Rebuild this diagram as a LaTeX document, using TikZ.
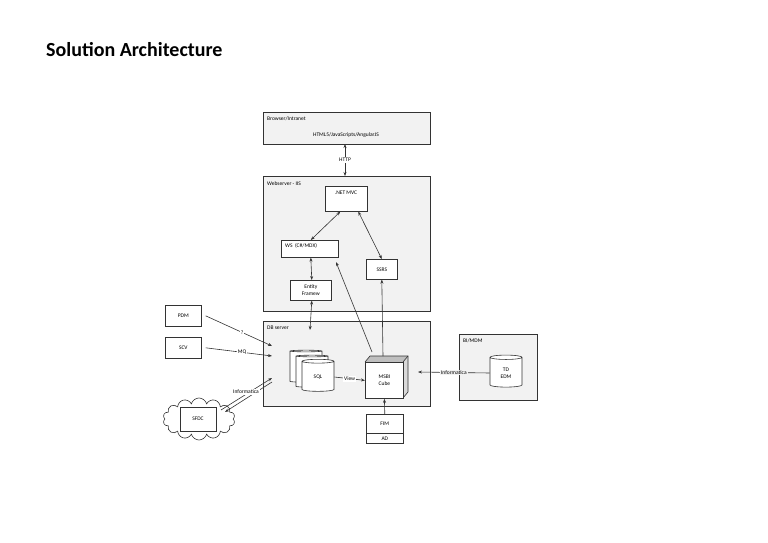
\documentclass[tikz,border=0pt]{standalone}
\usepackage{fontspec}
\setmainfont{Carlito}
\usetikzlibrary{shapes.geometric,shapes.symbols,arrows.meta}
\begin{document}
\begin{tikzpicture}[x=1pt,y=-1pt,
 cont/.style={draw=black!80,fill=black!5,line width=0.6pt},
 box/.style={draw=black!80,fill=white,line width=0.6pt},
 lbl/.style={font=\fontsize{5.5}{6.5}\selectfont,inner sep=1pt},
 ar/.style={-{Stealth[length=4pt,width=3pt]},line width=0.6pt,draw=black!80},
 dar/.style={{Stealth[length=4pt,width=3pt]}-{Stealth[length=4pt,width=3pt]},line width=0.6pt,draw=black!80},
 cyl/.style={cylinder,shape border rotate=90,aspect=0.25,draw=black!80,fill=white,line width=0.6pt,minimum width=32pt,minimum height=32pt,font=\fontsize{5.5}{6.5}\selectfont,align=center}]
\useasboundingbox (0,0) rectangle (768,543);
\node[anchor=west,font=\bfseries\fontsize{20}{24}\selectfont,inner sep=0pt] (title) at (46,50) {Solution Architecture};
% browser
\draw[cont] (263,112) rectangle (430,144);
\node[lbl,anchor=west] (brl) at (266,119) {Browser/Intranet};
\node[lbl] (html) at (346,135) {HTML5/JavaScripts/AngularJS};
\coordinate (bb) at (345,144);
% webserver
\draw[cont] (263,176) rectangle (430,311);
\node[lbl,anchor=west] (wsl) at (266,184) {Webserver - IIS};
\coordinate (wt) at (345,176);
\draw[dar] (bb) -- node[lbl,fill=white]{HTTP} (wt);
\node[box,minimum width=42pt,minimum height=25pt,anchor=north west] (mvc) at (325,186) {};
\node[lbl] (mvct) at (346,193) {.NET MVC};
\node[box,minimum width=57pt,minimum height=17pt,anchor=north west] (ws) at (281,240) {};
\node[lbl,anchor=west] (wst) at (284,246) {WS\ \ (C\#/MDX)};
\node[box,lbl,minimum width=31pt,minimum height=20pt,anchor=north west] (ssrs) at (366,259) {SSRS};
\node[box,lbl,minimum width=41pt,minimum height=20pt,anchor=north west,align=center] (ef) at (290,280) {Entity\\Framew};
\draw[dar] ([xshift=-6pt]mvc.south) -- ([xshift=1pt]ws.north);
\draw[dar] ([xshift=12pt]mvc.south) -- (ssrs.north);
\draw[dar] ([xshift=1pt]ws.south) -- ([xshift=1pt]ef.north);
% db server
\draw[cont] (263,321) rectangle (430,406);
\node[lbl,anchor=west] (dbl) at (266,328) {DB server};
\node[cyl] (c1) at (306,367) {};
\node[cyl] (c2) at (312,372) {};
\node[cyl] (sql) at (318,377) {SQL};
\coordinate (sqlt) at (310,330);
\draw[dar] ([xshift=1pt]ef.south) -- (sqlt);
% cube
\fill[black!25] (365,362) -- (370,356) -- (408,356) -- (403,362) -- cycle;
\fill[black!15] (403,362) -- (408,356) -- (408,392) -- (403,398) -- cycle;
\draw[black!80,line width=0.6pt] (365,362) -- (370,356) -- (408,356) -- (408,392) -- (403,398);
\draw[black!80,line width=0.6pt] (403,362) -- (408,356);
\node[draw=black!80,line width=0.8pt,fill=white,minimum width=38pt,minimum height=36pt,anchor=north west,lbl,align=center] (cube) at (365,362) {MSBI\\Cube};
\draw[ar] (sql.east) -- node[lbl,fill=white]{View} (cube.west);
\coordinate (ct) at (383,356);
\coordinate (cw) at (372,352);
\coordinate (wsb) at (336,262);
\draw[ar] (ct) -- (ssrs.south);
\draw[ar] (cw) -- (wsb);
% bi/mdm
\draw[cont] (459,334) rectangle (537,400);
\node[lbl,anchor=west] (bil) at (462,341) {BI/MDM};
\node[cyl,align=center] (td) at (506,373) {TD\\EDM};
\coordinate (ce) at (418,372);
\draw[ar] (td.west) -- node[lbl,fill=black!5]{Informatica} (ce);
% FIM / AD
\node[box,lbl,minimum width=37pt,minimum height=19pt,anchor=north west] (fim) at (366,414) {FIM};
\node[box,lbl,minimum width=37pt,minimum height=10pt,anchor=north west] (ad) at (366,433) {AD};
\draw[ar] (fim.north) -- (cube.south);
% sources
\node[box,lbl,minimum width=36pt,minimum height=21pt,anchor=north west] (pdm) at (165,305) {PDM};
\node[box,lbl,minimum width=36pt,minimum height=21pt,anchor=north west] (scv) at (165,337) {SCV};
\coordinate (pe) at (272,346);
\coordinate (se) at (272,356);
\draw[ar] ([xshift=4pt]pdm.east) -- node[lbl,pos=0.55,fill=white]{?} (pe);
\draw[ar] ([xshift=4pt]scv.east) -- node[lbl,pos=0.55,fill=white]{MQ} (se);
\node[cloud,cloud puffs=14,aspect=1.8,draw=black!80,fill=white,line width=0.6pt,minimum width=72pt,minimum height=42pt] (cloud) at (199,419) {};
\node[box,lbl,minimum width=36pt,minimum height=24pt] (sfdc) at (198,419) {SFDC};
\coordinate (i1) at (272,378);
\coordinate (i2) at (272,382);
\coordinate (o1) at (221,410);
\coordinate (o2) at (225,412);
\draw[ar] (o1) -- (i1);
\draw[ar] (i2) -- (o2);
\node[lbl,fill=white] (inf) at (246,392) {Informatica};
\end{tikzpicture}
\end{document}
